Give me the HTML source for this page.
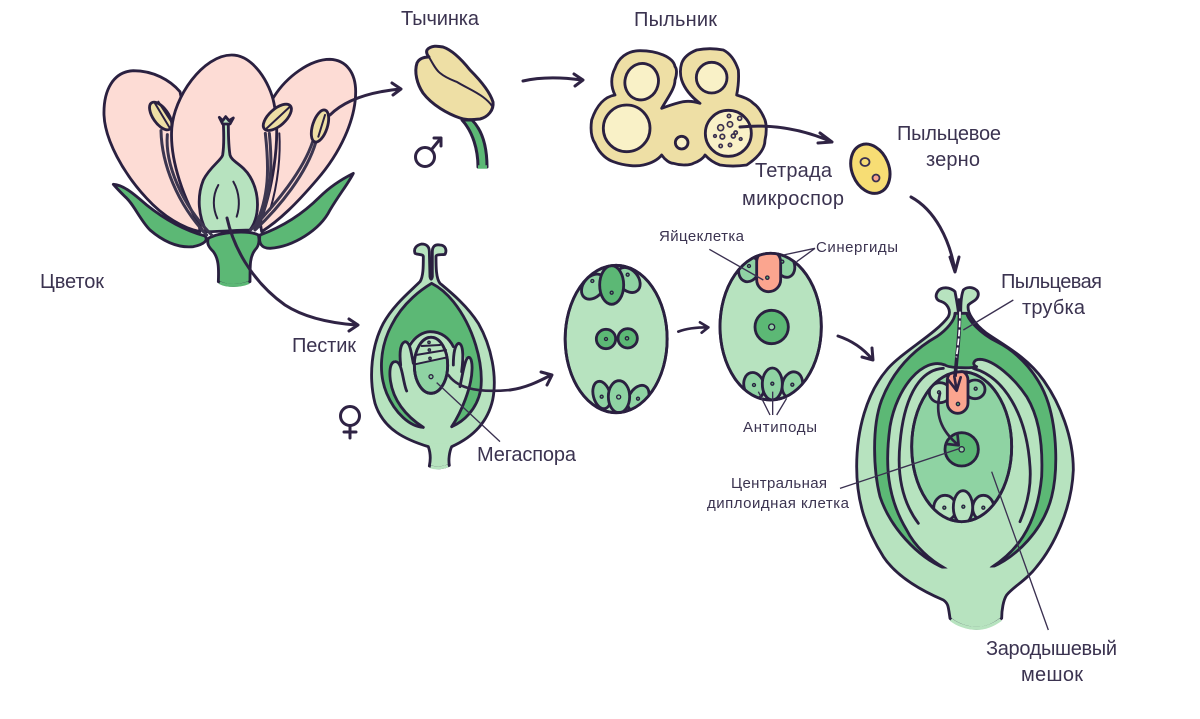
<!DOCTYPE html>
<html><head><meta charset="utf-8"><style>
html,body{margin:0;padding:0;background:#fff}
svg{display:block}
text{font-family:"Liberation Sans",sans-serif;fill:#3b3350}
.l{font-size:20px}.s{font-size:15px}
.o{stroke:#2a2040;stroke-width:3;stroke-linejoin:round;stroke-linecap:round}
.t{stroke:#2a2040;stroke-width:2;fill:none;stroke-linecap:round}
.a{stroke:#2f2344;stroke-width:3;fill:none;stroke-linecap:round;stroke-linejoin:round}
.p{stroke:#3a3050;stroke-width:1.4;fill:none}
.z .o{stroke-width:8.5}
.z .t{stroke-width:6;stroke-linejoin:round}
.z .w{stroke-width:8.5}
.z .n{fill:#5cb875;stroke:#2a2040;stroke-width:4}
.z .p{stroke-width:4}
.z .a{stroke-width:8}
.z .fl{fill:none;stroke:#3c3650;stroke-width:9;stroke-linecap:round}
</style></head><body>
<svg width="1200" height="719" viewBox="0 0 1200 719" xmlns="http://www.w3.org/2000/svg">
<defs>
<clipPath id="c1"><ellipse cx="198.5" cy="297" rx="153" ry="221"/></clipPath>
<clipPath id="c2"><ellipse cx="662" cy="260" rx="152" ry="220"/></clipPath>
<clipPath id="c3"><ellipse cx="365" cy="530" rx="150" ry="225"/></clipPath>
</defs>
<rect width="1200" height="719" fill="#fff"/>

<!-- FLOWER -->
<g class="z" transform="translate(90,40) scale(.33333)">
<path class="o" fill="#fddcd5" d="M270,155C240,120 190,92 130,92C70,95 40,150 42,225C45,300 100,400 170,475C220,530 280,565 330,575L300,300Z"/>
<path class="o" fill="#fddcd5" d="M552,170C590,110 660,58 720,58C770,60 797,100 797,155C797,240 750,340 680,420C620,490 570,540 515,575L470,300Z"/>
<path class="o" fill="#fddcd5" d="M245,270C250,170 340,45 425,45C490,45 540,130 552,190C575,300 545,460 505,560L340,575C280,480 240,360 245,270Z"/>
<path class="t" d="M568,280C572,340 565,430 540,510"/>
<path class="o" fill="#5cb875" d="M70,433C100,435 130,460 170,495C220,535 280,570 345,588C355,600 345,612 310,620C260,625 215,600 180,570C150,540 130,490 105,470C90,455 80,445 70,433Z"/>
<path class="o" fill="#5cb875" d="M790,400C775,430 750,460 720,510C690,570 610,620 540,625C515,625 505,610 510,585C580,560 640,520 690,470C720,440 760,415 790,400Z"/>
<path class="o" fill="#b7e3bf" d="M400,250C402,290 402,320 398,345C395,360 360,380 340,420C320,470 325,530 350,575C400,575 440,570 480,570C510,530 510,460 480,410C460,375 425,365 420,345C416,320 415,280 415,250Z"/>
<path class="o" fill="#b7e3bf" d="M388,232L398,242L407,230L417,242L430,234L420,252H398Z"/>
<path class="t" d="M385,435C365,470 370,510 382,535M430,425C450,460 450,500 440,530"/>
<path class="o" fill="#5cb875" d="M355,595C390,575 480,570 505,585C510,605 505,620 495,630C480,650 480,670 480,725C450,740 410,740 385,725C387,680 385,655 370,635C355,620 350,610 355,595Z"/>
<path d="M389,728C410,739 450,739 476,728" fill="none" stroke="#5cb875" stroke-width="9"/>
<path class="fl" d="M213,272C215,370 260,490 350,585"/>
<path class="fl" d="M232,284C225,370 272,490 365,585"/>
<path class="fl" d="M526,280C537,380 540,470 492,565"/>
<path class="fl" d="M538,280C548,380 545,470 500,565"/>
<path class="fl" d="M668,305C640,390 560,490 482,570"/>
<path class="fl" d="M678,305C650,400 570,500 495,570"/>
<ellipse class="o" fill="#eedfa5" cx="212" cy="228" rx="48" ry="23" transform="rotate(55 212 228)"/>
<path class="t" d="M195,190L240,265M205,185L247,250"/>
<ellipse class="o" fill="#eedfa5" cx="562" cy="232" rx="52" ry="25" transform="rotate(-42 562 232)"/>
<path class="t" d="M530,265L600,200"/>
<ellipse class="o" fill="#eedfa5" cx="690" cy="258" rx="50" ry="22" transform="rotate(-72 690 258)"/>
<path class="t" d="M685,290L705,225"/>
</g>
<path class="a" stroke-width="2.4" d="M330,115C345,100 370,92 400,89M392,83L401,89L393,95"/>
<path class="a" stroke-width="2.4" d="M227,218C233,245 250,280 285,305C305,318 330,323 356,325M349,319L358,325L349,331"/>

<!-- STAMEN -->
<path class="o" fill="#5cb875" d="M462,120C473,132 478,150 478,167H487C487,145 482,130 472,120Z"/>
<path d="M478,167H487" stroke="#5cb875" stroke-width="3.5"/>
<path class="o" fill="#eedfa5" d="M427,50C431,45 438,46 443,47C452,50 462,60 470,70C480,80 490,92 493,102C494,110 488,117 480,119C470,120 465,120 460,118C448,114 432,105 423,93C417,84 414,72 417,63C419,59 423,57 429,57C427,55 426,52 427,50Z"/>
<path class="t" d="M429,57C433,64 436,70 440,73C446,78 452,80 457,82C465,87 475,91 483,97C487,100 490,103 492,106"/>
<circle cx="425" cy="157" r="9.5" fill="none" stroke="#2f2344" stroke-width="3"/>
<path class="a" d="M432,149L441,138M434,138L441,138L441,146"/>
<path class="a" stroke-width="2.6" d="M523,81C540,77 560,77 582,80M574,74L583,80L575,86"/>

<!-- ANTHER -->
<g class="z" transform="translate(590,40) scale(.33333)">
<path class="o" fill="#eedfa5" d="M215,205C235,170 255,145 255,120C262,100 260,85 255,80C250,50 200,32 150,32C110,32 85,55 75,85C62,110 62,140 75,165C45,170 20,195 5,240C0,275 5,295 15,310C30,345 55,360 70,365C105,378 140,380 160,375C185,370 205,358 215,345C225,360 240,370 250,370C275,378 300,375 310,370C325,365 340,355 345,345C360,362 375,370 390,375C420,380 450,378 470,375C500,355 525,330 525,300C530,280 530,255 525,240C515,215 505,200 490,190C475,175 455,170 440,165C445,140 447,115 445,90C435,60 420,40 400,30C375,25 345,25 320,30C295,40 280,55 275,70C270,85 270,105 275,120C285,150 310,175 330,190C315,185 295,183 280,185C255,190 235,198 215,205Z"/>
<ellipse class="o" fill="#f9f1c7" cx="155" cy="125" rx="50" ry="55" transform="rotate(15 155 125)"/>
<ellipse class="o" fill="#f9f1c7" cx="365" cy="113" rx="46" ry="46"/>
<circle class="o" fill="#f9f1c7" cx="110" cy="265" r="70"/>
<circle class="o" fill="#f9f1c7" cx="275" cy="308" r="19"/>
<circle class="o" fill="#f9f1c7" cx="415" cy="280" r="69"/>
<g fill="#f3e6b0" stroke="#3a3050" stroke-width="5">
<circle cx="417" cy="228" r="5"/><circle cx="449" cy="235" r="6"/><circle cx="420" cy="253" r="8"/><circle cx="392" cy="263" r="9"/><circle cx="437" cy="278" r="5"/><circle cx="375" cy="288" r="4"/><circle cx="397" cy="290" r="7"/><circle cx="430" cy="288" r="6"/><circle cx="452" cy="297" r="4"/><circle cx="392" cy="318" r="5"/><circle cx="420" cy="315" r="5"/>
</g>
</g>
<path class="a" stroke-width="2.4" d="M740,127C770,124 800,128 832,142M820,133L832,142L818,143"/>

<!-- POLLEN -->
<ellipse class="o" fill="#f7dd74" cx="870.500" cy="168.500" rx="18.500" ry="25.500" transform="rotate(-22 871 169)"/>
<ellipse cx="865" cy="162" rx="4.500" ry="4" fill="#f7dd74" stroke="#3a3050" stroke-width="1.8"/>
<ellipse cx="876" cy="178" rx="3.500" ry="3.500" fill="#f9a38e" stroke="#3a3050" stroke-width="1.8"/>
<path class="a" d="M911,197C935,210 950,240 955,271M950,257L955,272L959,257"/>

<!-- PISTIL -->
<g class="z" transform="translate(360,230) scale(.33333)">
<path class="o" fill="#b7e3bf" d="M205,650C212,670 212,690 208,708C230,718 255,712 268,706C265,690 268,665 275,650C320,630 380,590 398,510C412,440 395,350 355,280C320,225 270,185 240,160C228,145 228,110 228,80C228,72 245,75 255,73C262,60 255,45 240,45C225,42 217,50 217,65L217,140C215,150 212,150 210,140L208,65C208,50 200,42 185,42C170,45 160,55 165,70C175,75 190,72 190,80C190,110 190,140 180,155C150,185 100,225 70,280C35,345 25,440 45,520C70,600 140,630 205,650Z"/>
<path d="M212,711C232,717 252,712 264,708" fill="none" stroke="#b7e3bf" stroke-width="9"/>
<path class="o" fill="#5cb875" d="M215,160C190,175 130,215 95,285C60,350 55,430 80,490C105,550 150,590 190,592C200,592 185,575 165,565L300,530C295,560 270,580 275,590C310,575 350,540 362,480C372,400 340,290 280,215C260,190 235,170 215,160Z"/>
<path fill="#b7e3bf" d="M190,592C140,560 95,510 90,440C88,410 95,395 105,395C115,393 120,405 122,420L122,360C125,340 135,333 145,340C165,315 190,305 210,305C245,305 270,325 280,350C290,338 305,340 310,360L315,385C325,378 335,385 336,410C337,460 310,540 275,590L265,640H205Z"/>
<path class="t w" d="M190,592C140,560 95,510 90,440C88,410 95,395 105,395C120,393 125,420 130,445C133,460 136,475 140,483"/>
<path class="t w" d="M122,405C118,370 120,340 135,335C150,335 153,365 160,400"/>
<path class="t w" d="M150,345C165,320 190,305 210,305C245,305 268,325 280,350"/>
<path class="t w" d="M280,405C280,370 285,345 295,340C308,340 312,370 305,425"/>
<path class="t w" d="M300,470C308,430 315,385 325,382C335,380 337,405 336,420C335,470 305,545 275,590"/>
<ellipse class="o" fill="#8fd3a3" cx="213" cy="406" rx="50" ry="84"/>
<path fill="#b7e3bf" d="M167,402C165,380 170,340 213,324C245,330 262,365 262,382Z"/>
<ellipse cx="213" cy="406" rx="50" ry="84" fill="none" stroke="#2a2040" stroke-width="8.500"/>
<path class="t" d="M168,375L258,360M165,403L262,382M185,348L240,345"/>
<circle class="n" cx="207" cy="337" r="3.500"/><circle class="n" cx="208" cy="360" r="3.500"/><circle class="n" cx="210" cy="385" r="3.500"/>
<circle cx="213" cy="440" r="6" fill="#8fd3a3" stroke="#2a2040" stroke-width="4"/>
<path class="a" d="M265,435C290,470 340,490 450,480"/>
<path class="p" d="M230,458L420,635"/>
</g>
<path class="a" stroke-width="2.4" d="M510,390C525,388 538,382 551,375M541,372L552,375L547,385"/>
<circle cx="350" cy="416" r="9.500" fill="none" stroke="#2f2344" stroke-width="3"/>
<path class="a" d="M350,426V438M344,432H356"/>

<!-- SACS -->
<g class="z" transform="translate(550,240) scale(.33333)">
<ellipse class="o" fill="#b7e3bf" cx="198.500" cy="297" rx="153" ry="221"/>
<g clip-path="url(#c1)">
<ellipse class="o" fill="#8fd3a3" cx="130" cy="140" rx="30" ry="42" transform="rotate(40 130 140)"/>
<ellipse class="o" fill="#8fd3a3" cx="235" cy="120" rx="30" ry="42" transform="rotate(-40 235 120)"/>
<ellipse class="o" fill="#5cb875" cx="185" cy="135" rx="36" ry="58"/>
<ellipse class="o" fill="#8fd3a3" cx="155" cy="465" rx="25" ry="42" transform="rotate(-15 155 465)"/>
<ellipse class="o" fill="#8fd3a3" cx="265" cy="475" rx="28" ry="42" transform="rotate(30 265 475)"/>
<ellipse class="o" fill="#8fd3a3" cx="207" cy="470" rx="32" ry="48"/>
</g>
<ellipse fill="none" class="o" cx="198.500" cy="297" rx="153" ry="221"/>
<circle class="o" fill="#5cb875" cx="168" cy="297" r="29"/>
<circle class="o" fill="#5cb875" cx="233" cy="295" r="29"/>
<circle class="n" cx="127" cy="123" r="4.500"/><circle class="n" cx="233" cy="104" r="4.500"/><circle class="n" cx="185" cy="158" r="4.500"/><circle class="n" cx="168" cy="297" r="4.500"/><circle class="n" cx="231" cy="295" r="5"/><circle class="n" cx="155" cy="470" r="4.500"/><circle class="n" cx="264" cy="476" r="4.500"/><circle cx="206" cy="471" r="6" fill="#8fd3a3" stroke="#2a2040" stroke-width="4"/>
<path class="a" d="M385,275C410,265 440,262 475,262M450,247L475,262L455,278"/>

<ellipse class="o" fill="#b7e3bf" cx="662" cy="260" rx="152" ry="220"/>
<g clip-path="url(#c2)">
<ellipse class="o" fill="#8fd3a3" cx="597" cy="88" rx="30" ry="38" transform="rotate(20 597 88)"/>
<ellipse class="o" fill="#8fd3a3" cx="705" cy="75" rx="28" ry="38" transform="rotate(-20 705 75)"/>
<rect class="o" fill="#fba58f" x="620" y="30" width="72" height="125" rx="36"/>
<ellipse class="o" fill="#8fd3a3" cx="612" cy="437" rx="30" ry="40" transform="rotate(-15 612 437)"/>
<ellipse class="o" fill="#8fd3a3" cx="727" cy="435" rx="30" ry="40" transform="rotate(15 727 435)"/>
<ellipse class="o" fill="#8fd3a3" cx="667" cy="432" rx="30" ry="48"/>
</g>
<ellipse fill="none" class="o" cx="662" cy="260" rx="152" ry="220"/>
<circle class="o" fill="#5cb875" cx="665" cy="261" r="50"/>
<circle cx="665" cy="261" r="9" fill="#8fd3a3" stroke="#2a2040" stroke-width="4"/>
<circle class="n" cx="597" cy="78" r="4.500"/><circle class="n" cx="697" cy="65" r="4.500"/><circle class="n" cx="652" cy="113" r="5"/><circle class="n" cx="612" cy="435" r="4.500"/><circle class="n" cx="667" cy="431" r="4.500"/><circle class="n" cx="727" cy="434" r="4.500"/>
<path class="p" d="M478,28L640,120M795,25L700,45M795,25L740,65M625,455L660,525M668,455L668,525M710,475L680,525"/>
</g>
<path class="a" d="M838,336C850,340 862,347 872,359M862,357L873,360L872,348"/>

<!-- FINAL OVULE -->
<g class="z" transform="translate(840,270) scale(.33333)">
<path class="o" fill="#b7e3bf" d="M330,1045C325,1010 325,1000 310,990C240,960 170,920 130,860C80,780 50,700 50,590C50,480 80,370 140,300C180,250 290,190 325,140C335,120 320,100 305,95C285,90 285,75 295,62C305,50 330,50 345,65C350,90 355,120 358,150L362,150C362,110 362,80 370,60C385,45 415,55 415,72C415,90 395,95 385,105C380,125 400,160 440,190C490,225 560,260 610,330C660,400 700,500 700,600C695,720 640,830 590,890C560,930 520,950 500,975C490,990 485,1020 485,1045C460,1065 435,1075 410,1075C380,1075 345,1060 330,1045Z"/>
<path d="M333,1049C348,1062 380,1075 410,1075C435,1075 460,1065 482,1049" fill="none" stroke="#b7e3bf" stroke-width="9.500"/>
<path class="o" fill="#5cb875" d="M345,130C345,150 320,180 290,200C220,240 160,300 125,390C95,470 100,600 120,680C150,770 230,860 315,895L455,892C530,860 610,780 635,680C655,600 650,480 625,400C600,320 540,250 470,215C420,190 385,150 380,130Z"/>
<path class="o" fill="#b7e3bf" d="M315,285C250,260 170,350 150,470C135,580 140,680 200,780C225,830 270,870 315,895L350,920H430L455,892C520,850 590,780 605,620C610,500 590,430 560,380C520,320 460,270 420,268C400,268 395,285 410,290C395,295 330,295 315,285Z"/>
<path d="M300,896L470,892L500,960H300Z" fill="#b7e3bf"/>
<path class="t w" d="M310,295C230,300 190,400 180,520C170,620 190,700 235,760"/>
<path class="t w" d="M400,295C490,320 560,430 570,590C575,660 555,720 540,755"/>
<ellipse class="o" fill="#8fd3a3" cx="365" cy="530" rx="150" ry="225"/>
<g clip-path="url(#c3)">
<ellipse class="o" fill="#b7e3bf" cx="300" cy="368" rx="32" ry="30"/>
<ellipse class="o" fill="#8fd3a3" cx="405" cy="358" rx="30" ry="28"/>
<rect class="o" fill="#fba58f" x="322" y="300" width="62" height="130" rx="31"/>
<ellipse class="o" fill="#b7e3bf" cx="315" cy="714" rx="34" ry="38"/>
<ellipse class="o" fill="#b7e3bf" cx="430" cy="714" rx="32" ry="38"/>
<ellipse class="o" fill="#b7e3bf" cx="369" cy="712" rx="29" ry="50"/>
</g>
<ellipse fill="none" class="o" cx="365" cy="530" rx="150" ry="225"/>
<circle class="o" fill="#5cb875" cx="365" cy="538" r="50"/>
<circle cx="365" cy="538" r="8" fill="#8fd3a3" stroke="#2a2040" stroke-width="4"/>
<circle class="n" cx="297" cy="367" r="4.500"/><circle class="n" cx="407" cy="356" r="4.500"/><circle cx="354" cy="402" r="5" fill="#5cb875" stroke="#2a2040" stroke-width="4"/><circle class="n" cx="313" cy="713" r="4.500"/><circle class="n" cx="370" cy="710" r="4.500"/><circle class="n" cx="430" cy="713" r="4.500"/>
<path d="M358,85L358,130" stroke="#2a2040" stroke-width="9"/>
<path d="M358,120C360,170 355,220 345,320" fill="none" stroke="#2a2040" stroke-width="11"/>
<path d="M360,125C360,170 356,215 349,262" fill="none" stroke="#fff" stroke-width="5" stroke-dasharray="20 7"/>
<path class="a" d="M343,320L350,360M325,330L350,362L362,322"/>
<path class="a" d="M300,370C285,430 300,480 355,525M320,522L356,526L352,490"/>
<path class="p" d="M520,90L370,180"/>
<path class="p" d="M0,655L360,535"/>
<path class="p" d="M455,605L625,1080"/>
</g>

<!-- LABELS -->
<text class="l" x="401" y="25" textLength="78">Тычинка</text>
<text class="l" x="634" y="26" textLength="83">Пыльник</text>
<text class="l" x="897" y="140" textLength="104">Пыльцевое</text>
<text class="l" x="926" y="166" textLength="54">зерно</text>
<text class="l" x="755" y="177" textLength="77">Тетрада</text>
<text class="l" x="742" y="205" textLength="102">микроспор</text>
<text class="l" x="40" y="288" textLength="64">Цветок</text>
<text class="l" x="292" y="352" textLength="64">Пестик</text>
<text class="l" x="477" y="461" textLength="99">Мегаспора</text>
<text class="s" x="659" y="241" textLength="85">Яйцеклетка</text>
<text class="s" x="816" y="252" textLength="82">Синергиды</text>
<text class="s" x="743" y="432" textLength="74">Антиподы</text>
<text class="l" x="1001" y="288" textLength="101">Пыльцевая</text>
<text class="l" x="1022" y="314" textLength="63">трубка</text>
<text class="s" x="731" y="488" textLength="96">Центральная</text>
<text class="s" x="707" y="508" textLength="142">диплоидная клетка</text>
<text class="l" x="986" y="655" textLength="131">Зародышевый</text>
<text class="l" x="1021" y="681" textLength="62">мешок</text>
</svg>
</body></html>
